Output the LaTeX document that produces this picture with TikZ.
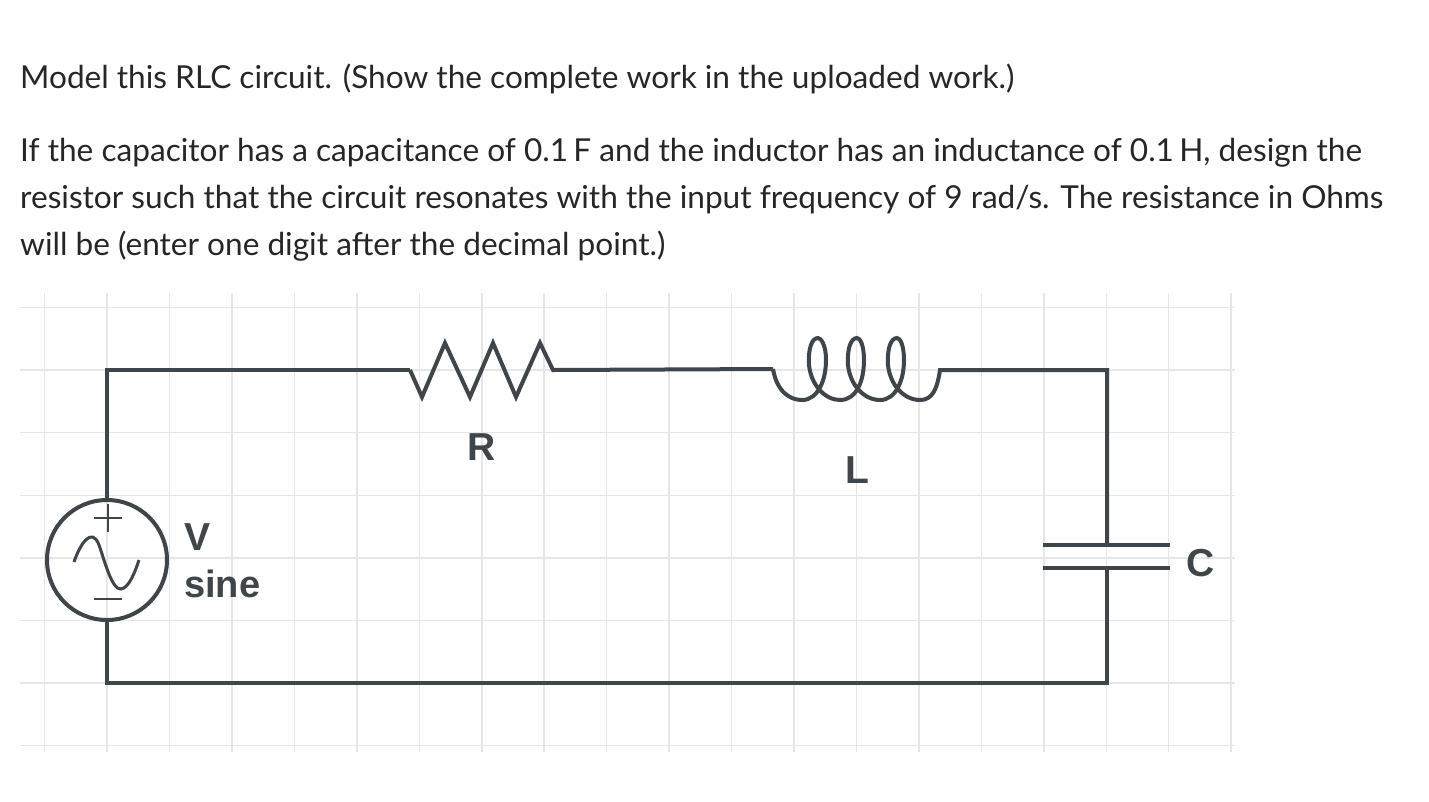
\documentclass[tikz,border=0pt]{standalone}
\usepackage{fontspec}
\setmainfont{Lato}
\newfontfamily\lab{Liberation Sans}
\begin{document}
\begin{tikzpicture}[x=1pt,y=-1pt,
  wire/.style={line width=4pt,draw=wirec,line join=miter},
  txt/.style={anchor=base west,inner sep=0pt,font=\fontsize{31.6}{36}\selectfont,text=black!85},
  lbl/.style={inner sep=0pt,font=\lab\bfseries\fontsize{39}{42}\selectfont,text=wirec}]
\definecolor{wirec}{HTML}{3F4548}
\definecolor{gridc}{HTML}{E6E6E6}
\useasboundingbox (0,0) rectangle (1429,801);
\fill[white] (0,0) rectangle (1429,801);
\node[txt] (t1) at (20,88) {Model this RLC circuit. (Show the complete work in the uploaded work.)};
\node[txt] (t2) at (20,161) {If the capacitor has a capacitance of 0.1\,F and the inductor has an inductance of 0.1\,H, design the};
\node[txt] (t3) at (20,208) {resistor such that the circuit resonates with the input frequency of 9 rad/s. The resistance in Ohms};
\node[txt] (t4) at (20,255) {will be (enter one digit after the decimal point.)};
% grid
\foreach \i in {0,...,19} \draw[gridc,line width=1.5pt] (44.6+62.45*\i,293) -- (44.6+62.45*\i,752);
\foreach \j in {0,...,7} \draw[gridc,line width=1.5pt] (20,307.5+62.6*\j) -- (1235,307.5+62.6*\j);
% nodes/coords
\coordinate (tl) at (107,370);
\coordinate (bl) at (107,683);
\coordinate (tr) at (1107,370);
\coordinate (br) at (1107,683);
\coordinate (r1) at (410,370);
\coordinate (r2) at (553,370);
\coordinate (l1) at (773,369);
\coordinate (l2) at (940,370);
\coordinate (c1) at (1107,545);
\coordinate (c2) at (1107,568);
\node[circle,draw=wirec,line width=4pt,minimum size=120pt,inner sep=0pt] (src) at (107,560) {};
% wires
\draw[wire] (src.north) -- (tl) -- (r1);
\draw[wire] (r1) -- (422,397) -- (445,343) -- (470,397) -- (493,343) -- (516,397) -- (540,343) -- (r2) -- (l1);
\draw[wire] (l1) .. controls (777,392) and (790,400) .. (802,400)
  .. controls (818,400) and (826,380) .. (826,360) .. controls (826,345) and (821,338) .. (818,338)
  .. controls (812,338) and (808,348) .. (809,365) .. controls (811,385) and (825,400) .. (840,400)
  .. controls (857,400) and (864,380) .. (864,360) .. controls (864,345) and (860,338) .. (857,338)
  .. controls (851,338) and (847,348) .. (848,365) .. controls (850,385) and (864,400) .. (880,400)
  .. controls (896,400) and (904,380) .. (904,360) .. controls (904,345) and (900,338) .. (897,338)
  .. controls (891,338) and (887,348) .. (888,365) .. controls (890,385) and (904,400) .. (920,400)
  .. controls (932,400) and (937,390) .. (l2) -- (tr) -- (c1);
\draw[wire] (c2) -- (br) -- (bl) -- (src.south);
\draw[wire,line cap=butt] (1043,545) -- (1170,545);
\draw[wire,line cap=butt] (1043,568) -- (1170,568);
% source symbols
\draw[wirec,line width=2.5pt] (94,518) -- (122,518) (108,504) -- (108,532);
\draw[wirec,line width=2.5pt] (94,599) -- (122,599);
\draw[wirec,line width=3pt] (74,562) .. controls (80,544) and (92,526) .. (99,545)
  .. controls (105,562) and (112,590) .. (121,589) .. controls (129,588) and (135,572) .. (139,560);
% labels
\node[lbl] (lR) at (482,447) {R};
\node[lbl] (lL) at (857,470) {L};
\node[lbl] (lC) at (1201,563) {C};
\node[lbl,anchor=west] (lV) at (184,537) {V};
\node[lbl,anchor=west,font=\lab\bfseries\fontsize{38}{40}\selectfont] (ls) at (184,584) {sine};
\end{tikzpicture}
\end{document}
